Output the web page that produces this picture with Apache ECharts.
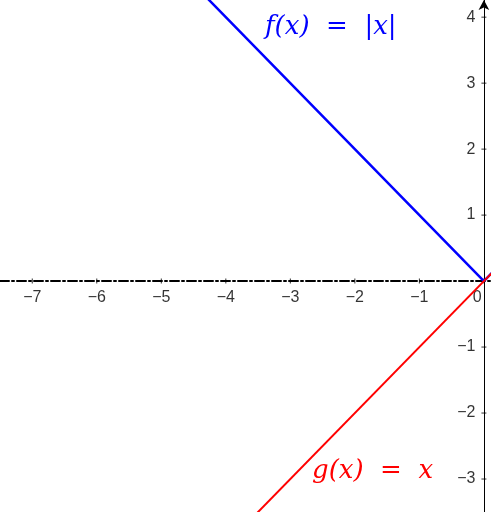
<!DOCTYPE html>
<html><head><meta charset="utf-8">
<script src="https://cdn.jsdelivr.net/npm/echarts@6/dist/echarts.min.js"></script>
<style>html,body{margin:0;padding:0;background:#fff}#c{width:491px;height:512px}</style>
</head><body><div id="c"></div>
<script>
const xTicks = [-7,-6,-5,-4,-3,-2,-1,0];
const yTicks = [-3,-2,-1,1,2,3,4];
const fData = [[-4.6,4.6],[0,0],[0.3,0.3]];
const gData = [[-3.8,-3.8],[0.3,0.3]];
const fLabel = 'f(x)  =  |x|';
const gLabel = 'g(x)  =  x';
const fmt = v => v<0 ? '\u2212'+(-v) : String(v);
const chart = echarts.init(document.getElementById('c'));
chart.setOption({
  animation:false,
  grid:{left:0,right:0,top:0,bottom:0,containLabel:false,outerBoundsMode:'none'},
  xAxis:{type:'value',min:-7.5,max:0.11,splitLine:{show:false},
    axisLine:{onZero:true,lineStyle:{color:'#000',width:2,type:[9,3,2,3]}},
    axisTick:{show:false},axisLabel:{show:false}},
  yAxis:{type:'value',min:-3.5,max:4.26,splitLine:{show:false},
    axisLine:{onZero:true,symbol:['none','arrow'],symbolSize:[8,10],lineStyle:{color:'#000',width:1}},
    axisTick:{show:false},axisLabel:{show:false}},
  series:[
    {type:'line',data:fData,symbol:'none',lineStyle:{color:'#0000ff',width:2.5},z:3},
    {type:'line',data:gData,symbol:'none',lineStyle:{color:'#ff0000',width:2},z:3},
    {type:'scatter',symbol:'rect',symbolSize:[1,5],itemStyle:{color:'#000'},silent:true,
      data:xTicks.map(v=>[v,0]),
      label:{show:true,position:'bottom',distance:6,color:'#000',fontSize:16,fontFamily:'Liberation Sans',
        formatter:p=>p.value[0]===0?'0   ':fmt(p.value[0])}},
    {type:'scatter',symbol:'rect',symbolSize:[5,1],itemStyle:{color:'#000'},silent:true,
      data:yTicks.map(v=>[0,v]),
      label:{show:true,position:'left',distance:6,color:'#000',fontSize:16,fontFamily:'Liberation Sans',
        formatter:p=>fmt(p.value[1])}}
  ],
  graphic:[
    {type:'text',left:265,top:14,style:{text:fLabel,fill:'#0000ff',font:'italic 26px "DejaVu Serif", serif'}},
    {type:'text',left:312,top:458,style:{text:gLabel,fill:'#ff0000',font:'italic 26px "DejaVu Serif", serif'}}
  ]
});
</script></body></html>
